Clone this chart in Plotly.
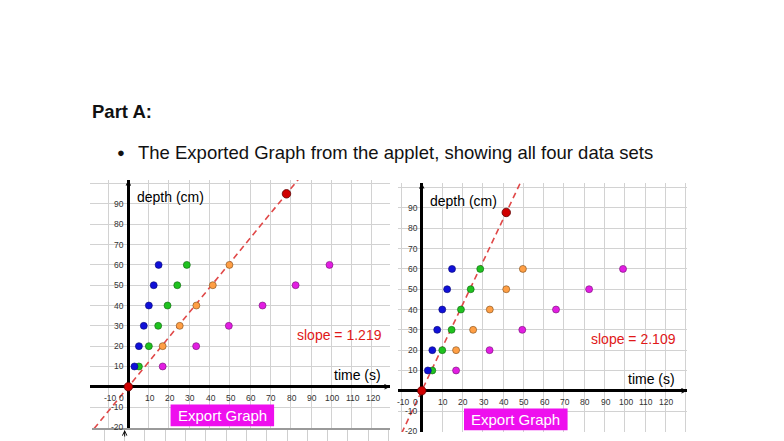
import plotly.graph_objects as go

# ---------------- data ----------------
depths = [10, 20, 30, 40, 50, 60]
blue_t = [3.0, 5.2, 7.6, 10.1, 12.5, 14.9]
green_t = [5.2, 10.1, 14.7, 19.3, 24.1, 28.8]
orange_depths = [20, 30, 40, 50, 60]
orange_t = [16.9, 25.3, 33.5, 41.6, 49.8]
magenta_t = [16.9, 33.4, 49.5, 66.1, 82.4, 99.1]

slopes = [1.219, 2.109]
red_pts = [([0, 77.9], [0, 95.0]), ([0, 41.6], [0, 87.8])]
line_x = [[-20, 95], [-12, 55]]

x_ticks = [10, 20, 30, 40, 50, 60, 70, 80, 90, 100, 110, 120]
y_ticks = [-20, -10, 10, 20, 30, 40, 50, 60, 70, 80, 90]

# page body has an 8px margin; the figure is sized to fill the rest of the window
OFF = 8
W, H = 784 - OFF, 441 - OFF
FONT = "Liberation Sans, Arial, sans-serif"


def fx(px):
    return (px - OFF) / W


def fy(py):
    return 1 - (py - OFF) / H


# panel geometry in window pixels: (left, right, top, bottom), data ranges
panels = [
    dict(px=(90, 390, 180, 428), xr=(-18.9, 128.9), yr=(-20.3, 101.8)),
    dict(px=(398, 687, 183, 432), xr=(-11.7, 130.6), yr=(-20.3, 102.3)),
]

fig = go.Figure()

for i, p in enumerate(panels):
    n = "" if i == 0 else str(i + 1)
    xa, ya = "x" + n, "y" + n
    l, r, t, b = p["px"]
    axis_common = dict(showgrid=True, gridcolor="#d2d2d2", gridwidth=1, dtick=10, tick0=0,
                       zeroline=True, zerolinecolor="#000000", zerolinewidth=2.6,
                       showticklabels=False, ticks="", showline=False, fixedrange=True)
    fig.update_layout(**{
        "xaxis" + n: dict(domain=[fx(l), fx(r)], range=list(p["xr"]), anchor=ya, **axis_common),
        "yaxis" + n: dict(domain=[fy(b), fy(t)], range=list(p["yr"]), anchor=xa, **axis_common),
    })

    # export button (background rect)
    fig.add_shape(type="rect", xref=xa, yref=ya, x0=20.8, x1=71.8, y0=-19.4, y1=-8.7,
                  fillcolor="#ee0fee", line=dict(width=0), layer="above")

    # dashed slope line
    s = slopes[i]
    fig.add_trace(go.Scatter(x=line_x[i], y=[s * v for v in line_x[i]], mode="lines",
                             line=dict(color="#e04848", width=1.6, dash="6px,4px"),
                             xaxis=xa, yaxis=ya, hoverinfo="skip", showlegend=False))

    mk = lambda c, lc: dict(size=7, color=c, line=dict(color=lc, width=0.6))
    fig.add_trace(go.Scatter(x=magenta_t, y=depths, mode="markers", marker=mk("#e21ee2", "#701070"),
                             xaxis=xa, yaxis=ya, showlegend=False))
    fig.add_trace(go.Scatter(x=orange_t, y=orange_depths, mode="markers", marker=mk("#ff9f45", "#7a4a18"),
                             xaxis=xa, yaxis=ya, showlegend=False))
    fig.add_trace(go.Scatter(x=green_t, y=depths, mode="markers", marker=mk("#1fc21f", "#106010"),
                             xaxis=xa, yaxis=ya, showlegend=False))
    fig.add_trace(go.Scatter(x=blue_t, y=depths, mode="markers", marker=mk("#1010d8", "#080870"),
                             xaxis=xa, yaxis=ya, showlegend=False))
    fig.add_trace(go.Scatter(x=red_pts[i][0], y=red_pts[i][1], mode="markers",
                             marker=dict(size=8.5, color="#d00000", line=dict(color="#600000", width=0.8)),
                             xaxis=xa, yaxis=ya, showlegend=False))

    # axis arrow heads
    fig.add_annotation(x=0, y=p["yr"][1], xref=xa, yref=ya, ax=0, ay=8, text="", showarrow=True,
                       arrowhead=5, arrowsize=0.9, arrowwidth=1, arrowcolor="#000000")
    fig.add_annotation(x=p["xr"][1], y=0, xref=xa, yref=ya, ax=-8, ay=0, text="", showarrow=True,
                       arrowhead=5, arrowsize=0.9, arrowwidth=1, arrowcolor="#000000")

    # tick labels on the axes
    tf = dict(size=8.5, color="#333333", family=FONT)
    for v in x_ticks:
        if v > p["xr"][1] - 3:
            continue
        fig.add_annotation(x=v, y=0, xref=xa, yref=ya, text=str(v), showarrow=False,
                           yanchor="top", yshift=-4, xshift=1, font=tf)
    fig.add_annotation(x=-10, y=0, xref=xa, yref=ya, text="-10", showarrow=False,
                       yanchor="top", yshift=-4, xshift=2, font=tf)
    fig.add_annotation(x=0, y=0, xref=xa, yref=ya, text="0", showarrow=False, xanchor="right",
                       yanchor="top", yshift=-4, xshift=-2, font=tf)
    for v in y_ticks:
        fig.add_annotation(x=0, y=v, xref=xa, yref=ya, text=str(v), showarrow=False,
                           xanchor="right", xshift=-2, font=tf)

    # axis captions
    fig.add_annotation(x=3.2, y=93.6, xref=xa, yref=ya, text="depth (cm)", showarrow=False,
                       xanchor="left", font=dict(size=14, color="#000000", family=FONT))
    fig.add_annotation(x=125.6, y=5.8, xref=xa, yref=ya, text="time (s)", showarrow=False,
                       xanchor="right", font=dict(size=14, color="#000000", family=FONT))
    fig.add_annotation(x=126.0, y=25.3, xref=xa, yref=ya, text="slope = %.3f" % s, showarrow=False,
                       xanchor="right", font=dict(size=14, color="#e01818", family=FONT))
    fig.add_annotation(x=46.3, y=-14.0, xref=xa, yref=ya, text="Export Graph", showarrow=False,
                       font=dict(size=15, color="#ffffff", family=FONT))

# strip of the next screenshot visible below the left graph
fig.update_layout(
    xaxis3=dict(domain=[fx(92), fx(390)], range=[-16.1, 130.7], anchor="y3", showgrid=True,
                gridcolor="#cfcfcf", dtick=10, tick0=0, zeroline=False, showticklabels=False,
                fixedrange=True),
    yaxis3=dict(domain=[0, fy(430)], range=[0, 1], anchor="x3", showgrid=False, zeroline=False,
                showticklabels=False, fixedrange=True),
)
fig.add_shape(type="line", xref="paper", yref="paper", x0=fx(92), x1=fx(390), y0=fy(429), y1=fy(429),
              line=dict(color="#9a9a9a", width=2))
fig.add_annotation(x=0, y=1, xref="x3", yref="y3", ax=0, ay=8, text="", showarrow=True,
                   arrowhead=5, arrowsize=0.9, arrowwidth=1, arrowcolor="#000000")

# slide text
fig.add_annotation(x=fx(90), y=fy(112), xref="paper", yref="paper", text="<b>Part A:</b>",
                   showarrow=False, xanchor="left", yanchor="middle",
                   font=dict(size=18.5, color="#111111", family=FONT))
fig.add_annotation(x=fx(120.5), y=fy(152), xref="paper", yref="paper", text="●",
                   showarrow=False, xanchor="center", yanchor="middle",
                   font=dict(size=13, color="#111111", family=FONT))
fig.add_annotation(x=fx(136), y=fy(152), xref="paper", yref="paper",
                   text="The Exported Graph from the applet, showing all four data sets",
                   showarrow=False, xanchor="left", yanchor="middle",
                   font=dict(size=18.5, color="#111111", family=FONT))

fig.update_layout(width=W, height=H, margin=dict(l=0, r=0, t=0, b=0),
                  paper_bgcolor="#ffffff", plot_bgcolor="#ffffff", showlegend=False)

fig.write_html("out.html")
